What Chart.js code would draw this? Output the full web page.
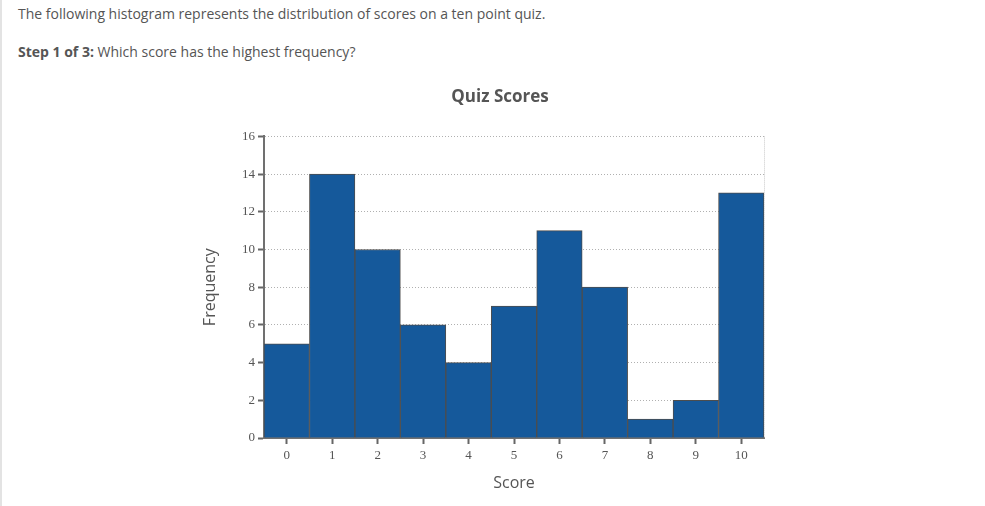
<!DOCTYPE html>
<html>
<head>
<meta charset="utf-8">
<script src="https://cdn.jsdelivr.net/npm/chart.js@4/dist/chart.umd.min.js"></script>
<style>
  html, body { margin: 0; padding: 0; background: #fff; }
  body { width: 985px; height: 506px; position: relative; overflow: hidden; font-family: "Open Sans", sans-serif; color: #555; }
  .stripe { position: absolute; left: 0; top: 0; width: 2px; height: 506px; background: #e3e3e3; }
  .line1 { position: absolute; left: 18px; top: 4px; font-size: 14px; white-space: nowrap; }
  .line2 { position: absolute; left: 18px; top: 42px; font-size: 14px; white-space: nowrap; }
  .wrap { position: absolute; left: 0; top: 0; width: 985px; height: 506px; }
</style>
</head>
<body>
<div class="stripe"></div>
<div class="line1">The following histogram represents the distribution of scores on a ten point quiz.</div>
<div class="line2"><b>Step 1 of 3:</b> Which score has the highest frequency?</div>
<div class="wrap"><canvas id="c" width="985" height="506"></canvas></div>
<script>
const scores = ["0","1","2","3","4","5","6","7","8","9","10"];
const frequencies = [5, 14, 10, 6, 4, 7, 11, 8, 1, 2, 13];
const yTicks = [0, 2, 4, 6, 8, 10, 12, 14, 16];
const chartTitle = "Quiz Scores";
const xTitle = "Score";
const yTitle = "Frequency";

const rightBorder = {
  id: 'rightBorder',
  afterLayout(chart) {
    // centre the title over the whole drawing (as in the original figure)
    if (chart.titleBlock) { chart.titleBlock.left = 236; }
  },
  afterDatasetsDraw(chart) {
    const {ctx, chartArea: a} = chart;
    ctx.save();
    ctx.strokeStyle = '#c8c8c8';
    ctx.lineWidth = 1;
    ctx.setLineDash([1, 1]);
    ctx.beginPath();
    ctx.moveTo(Math.round(a.right) + 0.5, a.top);
    ctx.lineTo(Math.round(a.right) + 0.5, a.bottom);
    ctx.stroke();
    ctx.restore();
  }
};

new Chart(document.getElementById('c'), {
  type: 'bar',
  data: {
    labels: scores,
    datasets: [{
      data: frequencies,
      backgroundColor: '#15599b',
      borderColor: '#4d4d4d',
      borderWidth: 1,
      barPercentage: 1,
      categoryPercentage: 1
    }]
  },
  options: {
    responsive: false,
    animation: false,
    events: [],
    layout: { padding: { left: 201, right: 221, top: 85, bottom: 13 } },
    plugins: {
      legend: { display: false },
      tooltip: { enabled: false },
      title: {
        display: true,
        text: chartTitle,
        color: '#555',
        font: { family: '"Open Sans", sans-serif', size: 17, weight: 'bold', lineHeight: 1.2 },
        padding: { top: 2, bottom: 29 }
      }
    },
    scales: {
      x: {
        afterFit(scale) { scale.height = 55; },
        grid: {
          offset: false,
          drawOnChartArea: false,
          drawTicks: true,
          tickLength: 6,
          tickColor: '#666',
          tickWidth: 2
        },
        border: { color: '#707070', width: 2 },
        ticks: {
          color: '#555',
          padding: 4,
          font: { family: '"Liberation Serif", "Times New Roman", serif', size: 13 }
        },
        title: {
          display: true,
          text: xTitle,
          color: '#555',
          padding: 0,
          font: { family: '"Open Sans", sans-serif', size: 16, lineHeight: 1.2 }
        }
      },
      y: {
        min: 0,
        max: 16,
        afterFit(scale) { scale.width = 63; },
        afterBuildTicks(scale) { scale.ticks = yTicks.map(v => ({ value: v })); },
        grid: {
          color: '#b0b0b0',
          tickLength: 6,
          tickColor: '#666',
          tickWidth: 2,
          tickBorderDash: []
        },
        border: { color: '#707070', width: 2, dash: [1, 2] },
        ticks: {
          color: '#555',
          padding: 3,
          font: { family: '"Liberation Serif", "Times New Roman", serif', size: 13 }
        },
        title: {
          display: true,
          text: yTitle,
          color: '#555',
          padding: 0,
          font: { family: '"Open Sans", sans-serif', size: 16, lineHeight: 1.2 }
        }
      }
    }
  },
  plugins: [rightBorder]
});
</script>
</body>
</html>
